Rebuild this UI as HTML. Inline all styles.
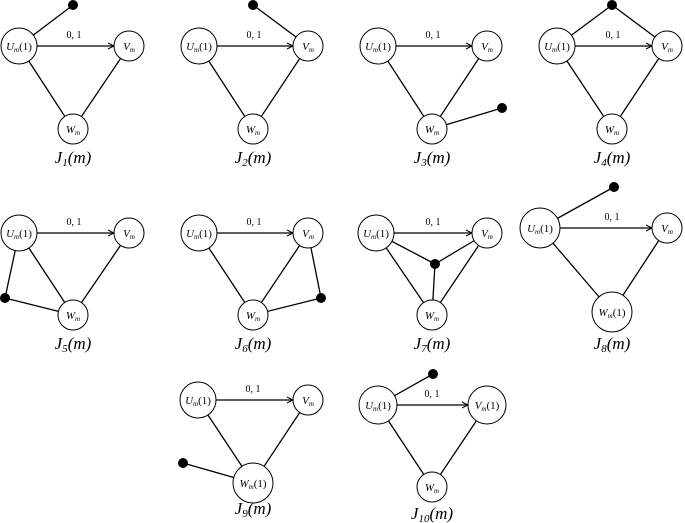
<!DOCTYPE html>
<html><head><meta charset="utf-8"><style>
body{margin:0;background:#fff}
svg{display:block}
.n{fill:#fff;stroke:#000;stroke-width:1}
.e{stroke:#000;stroke-width:1.3;fill:none}
.t{font-family:"Liberation Serif",serif;font-style:italic;font-size:11px;text-anchor:middle}
.s{font-size:7px}
.u{font-style:normal}
.l{font-family:"Liberation Serif",serif;font-style:italic;font-size:17px;text-anchor:middle}
.z{font-family:"Liberation Serif",serif;font-size:10px;text-anchor:middle}
</style></head><body>
<svg width="685" height="523" viewBox="0 0 685 523" xmlns="http://www.w3.org/2000/svg">
<defs><marker id="a" markerWidth="8" markerHeight="8" refX="7" refY="4" orient="auto" markerUnits="userSpaceOnUse"><path d="M1,1 L7,4 L1,7" fill="none" stroke="#000" stroke-width="1"/></marker></defs>

<!-- J1 -->
<g>
<line class="e" x1="19" y1="46" x2="73" y2="129"/><line class="e" x1="129" y1="46" x2="73" y2="129"/>
<line class="e" x1="19" y1="46" x2="73" y2="5"/>
<line class="e" x1="37" y1="46" x2="114" y2="46" marker-end="url(#a)"/>
<circle class="n" cx="19" cy="46" r="18"/><circle class="n" cx="129" cy="46" r="15"/><circle class="n" cx="73" cy="129" r="15"/>
<circle cx="73" cy="5" r="5"/>
<text class="t" x="19" y="50">U<tspan class="s" dy="2">m</tspan><tspan class="u" dy="-2">(1)</tspan></text>
<text class="t" x="129" y="50">V<tspan class="s" dy="2">m</tspan></text>
<text class="t" x="73" y="133">W<tspan class="s" dy="2">m</tspan></text>
<text class="z" x="74" y="38">0, 1</text>
<text class="l" x="73" y="163">J<tspan font-size="11" dy="3">1</tspan><tspan dy="-3">(m)</tspan></text>
</g>

<!-- J2 -->
<g>
<line class="e" x1="199" y1="46" x2="253" y2="129"/><line class="e" x1="308" y1="46" x2="253" y2="129"/>
<line class="e" x1="308" y1="46" x2="253" y2="5"/>
<line class="e" x1="217" y1="46" x2="293" y2="46" marker-end="url(#a)"/>
<circle class="n" cx="199" cy="46" r="18"/><circle class="n" cx="308" cy="46" r="15"/><circle class="n" cx="253" cy="129" r="15"/>
<circle cx="253" cy="5" r="5"/>
<text class="t" x="199" y="50">U<tspan class="s" dy="2">m</tspan><tspan class="u" dy="-2">(1)</tspan></text>
<text class="t" x="308" y="50">V<tspan class="s" dy="2">m</tspan></text>
<text class="t" x="253" y="133">W<tspan class="s" dy="2">m</tspan></text>
<text class="z" x="254" y="38">0, 1</text>
<text class="l" x="253" y="163">J<tspan font-size="11" dy="3">2</tspan><tspan dy="-3">(m)</tspan></text>
</g>

<!-- J3 -->
<g>
<line class="e" x1="378" y1="46" x2="432" y2="129"/><line class="e" x1="487" y1="46" x2="432" y2="129"/>
<line class="e" x1="432" y1="129" x2="502" y2="108"/>
<line class="e" x1="396" y1="46" x2="472" y2="46" marker-end="url(#a)"/>
<circle class="n" cx="378" cy="46" r="18"/><circle class="n" cx="487" cy="46" r="15"/><circle class="n" cx="432" cy="129" r="15"/>
<circle cx="502" cy="108" r="5"/>
<text class="t" x="378" y="50">U<tspan class="s" dy="2">m</tspan><tspan class="u" dy="-2">(1)</tspan></text>
<text class="t" x="487" y="50">V<tspan class="s" dy="2">m</tspan></text>
<text class="t" x="432" y="133">W<tspan class="s" dy="2">m</tspan></text>
<text class="z" x="433" y="38">0, 1</text>
<text class="l" x="432" y="163">J<tspan font-size="11" dy="3">3</tspan><tspan dy="-3">(m)</tspan></text>
</g>

<!-- J4 -->
<g>
<line class="e" x1="557" y1="46" x2="612" y2="129"/><line class="e" x1="667" y1="46" x2="612" y2="129"/>
<line class="e" x1="557" y1="46" x2="612" y2="5"/><line class="e" x1="667" y1="46" x2="612" y2="5"/>
<line class="e" x1="575" y1="46" x2="652" y2="46" marker-end="url(#a)"/>
<circle class="n" cx="557" cy="46" r="18"/><circle class="n" cx="667" cy="46" r="15"/><circle class="n" cx="612" cy="129" r="15"/>
<circle cx="612" cy="5" r="5"/>
<text class="t" x="557" y="50">U<tspan class="s" dy="2">m</tspan><tspan class="u" dy="-2">(1)</tspan></text>
<text class="t" x="667" y="50">V<tspan class="s" dy="2">m</tspan></text>
<text class="t" x="612" y="133">W<tspan class="s" dy="2">m</tspan></text>
<text class="z" x="613" y="38">0, 1</text>
<text class="l" x="612" y="163">J<tspan font-size="11" dy="3">4</tspan><tspan dy="-3">(m)</tspan></text>
</g>

<!-- J5 -->
<g>
<line class="e" x1="19" y1="233" x2="73" y2="315"/><line class="e" x1="129" y1="233" x2="73" y2="315"/>
<line class="e" x1="19" y1="233" x2="5" y2="298"/><line class="e" x1="73" y1="315" x2="5" y2="298"/>
<line class="e" x1="37" y1="233" x2="114" y2="233" marker-end="url(#a)"/>
<circle class="n" cx="19" cy="233" r="18"/><circle class="n" cx="129" cy="233" r="15"/><circle class="n" cx="73" cy="315" r="15"/>
<circle cx="5" cy="298" r="5"/>
<text class="t" x="19" y="237">U<tspan class="s" dy="2">m</tspan><tspan class="u" dy="-2">(1)</tspan></text>
<text class="t" x="129" y="237">V<tspan class="s" dy="2">m</tspan></text>
<text class="t" x="73" y="319">W<tspan class="s" dy="2">m</tspan></text>
<text class="z" x="74" y="225">0, 1</text>
<text class="l" x="73" y="349">J<tspan font-size="11" dy="3">5</tspan><tspan dy="-3">(m)</tspan></text>
</g>

<!-- J6 -->
<g>
<line class="e" x1="199" y1="233" x2="253" y2="315"/><line class="e" x1="308" y1="233" x2="253" y2="315"/>
<line class="e" x1="308" y1="233" x2="321" y2="298"/><line class="e" x1="253" y1="315" x2="321" y2="298"/>
<line class="e" x1="217" y1="233" x2="293" y2="233" marker-end="url(#a)"/>
<circle class="n" cx="199" cy="233" r="18"/><circle class="n" cx="308" cy="233" r="15"/><circle class="n" cx="253" cy="315" r="15"/>
<circle cx="321" cy="298" r="5"/>
<text class="t" x="199" y="237">U<tspan class="s" dy="2">m</tspan><tspan class="u" dy="-2">(1)</tspan></text>
<text class="t" x="308" y="237">V<tspan class="s" dy="2">m</tspan></text>
<text class="t" x="253" y="319">W<tspan class="s" dy="2">m</tspan></text>
<text class="z" x="254" y="225">0, 1</text>
<text class="l" x="253" y="349">J<tspan font-size="11" dy="3">6</tspan><tspan dy="-3">(m)</tspan></text>
</g>

<!-- J7 -->
<g>
<line class="e" x1="376" y1="233" x2="432" y2="315"/><line class="e" x1="487" y1="233" x2="432" y2="315"/>
<line class="e" x1="376" y1="233" x2="435" y2="264"/><line class="e" x1="487" y1="233" x2="435" y2="264"/><line class="e" x1="432" y1="315" x2="435" y2="264"/>
<line class="e" x1="394" y1="233" x2="472" y2="233" marker-end="url(#a)"/>
<circle class="n" cx="376" cy="233" r="18"/><circle class="n" cx="487" cy="233" r="15"/><circle class="n" cx="432" cy="315" r="15"/>
<circle cx="435" cy="264" r="5"/>
<text class="t" x="376" y="237">U<tspan class="s" dy="2">m</tspan><tspan class="u" dy="-2">(1)</tspan></text>
<text class="t" x="487" y="237">V<tspan class="s" dy="2">m</tspan></text>
<text class="t" x="432" y="319">W<tspan class="s" dy="2">m</tspan></text>
<text class="z" x="433" y="225">0, 1</text>
<text class="l" x="432" y="349">J<tspan font-size="11" dy="3">7</tspan><tspan dy="-3">(m)</tspan></text>
</g>

<!-- J8 -->
<g>
<line class="e" x1="540" y1="228" x2="612" y2="312"/><line class="e" x1="667" y1="228" x2="612" y2="312"/>
<line class="e" x1="540" y1="228" x2="614" y2="187"/>
<line class="e" x1="560" y1="228" x2="652" y2="228" marker-end="url(#a)"/>
<circle class="n" cx="540" cy="228" r="20"/><circle class="n" cx="667" cy="228" r="15"/><circle class="n" cx="612" cy="312" r="20"/>
<circle cx="614" cy="187" r="5"/>
<text class="t" x="540" y="232">U<tspan class="s" dy="2">m</tspan><tspan class="u" dy="-2">(1)</tspan></text>
<text class="t" x="667" y="232">V<tspan class="s" dy="2">m</tspan></text>
<text class="t" x="612" y="316">W<tspan class="s" dy="2">m</tspan><tspan class="u" dy="-2">(1)</tspan></text>
<text class="z" x="612" y="220">0, 1</text>
<text class="l" x="612" y="349">J<tspan font-size="11" dy="3">8</tspan><tspan dy="-3">(m)</tspan></text>
</g>

<!-- J9 -->
<g>
<line class="e" x1="198" y1="400" x2="253" y2="483"/><line class="e" x1="308" y1="400" x2="253" y2="483"/>
<line class="e" x1="253" y1="483" x2="183" y2="463"/>
<line class="e" x1="216" y1="400" x2="293" y2="400" marker-end="url(#a)"/>
<circle class="n" cx="198" cy="400" r="18"/><circle class="n" cx="308" cy="400" r="15"/><circle class="n" cx="253" cy="483" r="20"/>
<circle cx="183" cy="463" r="5"/>
<text class="t" x="198" y="404">U<tspan class="s" dy="2">m</tspan><tspan class="u" dy="-2">(1)</tspan></text>
<text class="t" x="308" y="404">V<tspan class="s" dy="2">m</tspan></text>
<text class="t" x="253" y="487">W<tspan class="s" dy="2">m</tspan><tspan class="u" dy="-2">(1)</tspan></text>
<text class="z" x="253" y="392">0, 1</text>
<text class="l" x="253" y="514">J<tspan font-size="11" dy="3">9</tspan><tspan dy="-3">(m)</tspan></text>
</g>

<!-- J10 -->
<g>
<line class="e" x1="378" y1="405" x2="432" y2="487"/><line class="e" x1="487" y1="405" x2="432" y2="487"/>
<line class="e" x1="378" y1="405" x2="433" y2="374"/>
<line class="e" x1="397" y1="405" x2="468" y2="405" marker-end="url(#a)"/>
<circle class="n" cx="378" cy="405" r="19"/><circle class="n" cx="487" cy="405" r="19"/><circle class="n" cx="432" cy="487" r="15"/>
<circle cx="433" cy="374" r="5"/>
<text class="t" x="378" y="409">U<tspan class="s" dy="2">m</tspan><tspan class="u" dy="-2">(1)</tspan></text>
<text class="t" x="487" y="409">V<tspan class="s" dy="2">m</tspan><tspan class="u" dy="-2">(1)</tspan></text>
<text class="t" x="432" y="491">W<tspan class="s" dy="2">m</tspan></text>
<text class="z" x="432" y="397">0, 1</text>
<text class="l" x="432" y="519">J<tspan font-size="11" dy="3">10</tspan><tspan dy="-3">(m)</tspan></text>
</g>
</svg>
</body></html>
